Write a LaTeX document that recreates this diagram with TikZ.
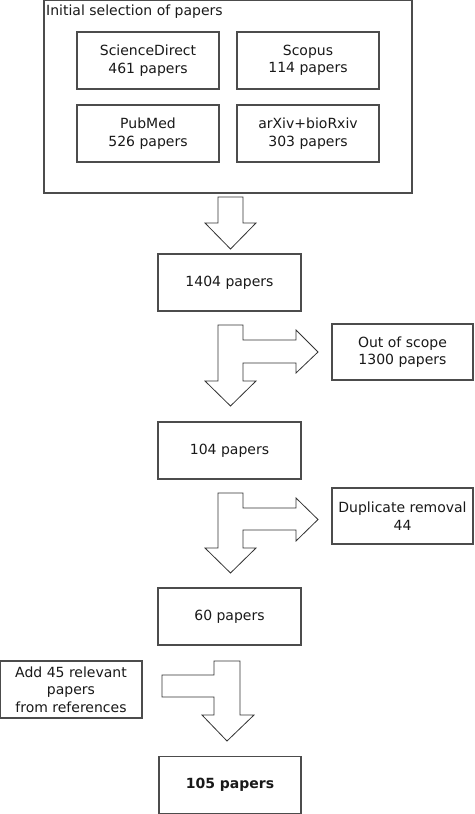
\documentclass[tikz,border=0pt]{standalone}
\usepackage{fontspec}
\setmainfont{DejaVu Sans}
\begin{document}
\begin{tikzpicture}[x=1pt,y=-1pt,
  txt/.style={font=\fontsize{14}{17.5}\selectfont, text=black!90},
  box/.style={txt, draw=black!70, line width=1.1pt, fill=white, align=center, inner sep=0pt},
  outerbox/.style={draw=black!70, line width=1.1pt, inner sep=0pt},
  barrow/.style={draw=black!80, line width=0.8pt, fill=white, line join=miter}]
\useasboundingbox (0,0) rectangle (474,814);
% outer frame
\node[outerbox, minimum width=368pt, minimum height=193pt] (init) at (228,96.5) {};
\node[txt, anchor=west, inner sep=0pt] (initlbl) at (46,12) {Initial selection of papers};
% sources
\node[box, minimum width=142pt, minimum height=57pt] (sd) at (148,60.5) {ScienceDirect\\461 papers};
\node[box, minimum width=142pt, minimum height=57pt] (sc) at (308,60.5) {Scopus\\114 papers};
\node[box, minimum width=142pt, minimum height=57pt] (pm) at (148,133.5) {PubMed\\526 papers};
\node[box, minimum width=142pt, minimum height=57pt] (ax) at (308,133.5) {arXiv+bioRxiv\\303 papers};
% main flow
\node[box, minimum width=143pt, minimum height=57pt] (n1404) at (229.5,282.5) {1404 papers};
\node[box, minimum width=143pt, minimum height=57pt] (n104) at (229.5,450.5) {104 papers};
\node[box, minimum width=143pt, minimum height=57pt] (n60) at (229.5,616.5) {60 papers};
\node[box, minimum width=142pt, minimum height=57pt] (n105) at (230,785) {\textbf{105 papers}};
% side boxes
\node[box, minimum width=141pt, minimum height=56pt] (oos) at (402.5,352) {Out of scope\\1300 papers};
\node[box, minimum width=141pt, minimum height=56pt] (dup) at (402.5,516) {Duplicate removal\\44};
\node[box, minimum width=142pt, minimum height=57pt] (add) at (71,689.5) {Add 45 relevant\\papers\\from references};
% block arrows
\draw[barrow] (218,197) -- (243,197) -- (243,223) -- (256,223) -- (230.5,249) -- (205,223) -- (218,223) -- cycle;
\draw[barrow] (218,325) -- (243,325) -- (243,340) -- (296,340) -- (296,330) -- (318,352) -- (296,373) -- (296,363) -- (243,363) -- (243,381) -- (256,381) -- (230.5,406) -- (205,381) -- (218,381) -- cycle;
\draw[barrow] (218,493) -- (243,493) -- (243,508) -- (296,508) -- (296,498) -- (318,519.5) -- (296,541) -- (296,530) -- (243,530) -- (243,548) -- (256,548) -- (230.5,573) -- (205,548) -- (218,548) -- cycle;
\draw[barrow] (214,661) -- (240,661) -- (240,715) -- (254,715) -- (227,741) -- (202,715) -- (214,715) -- (214,697) -- (162,697) -- (162,675) -- (214,675) -- cycle;
\end{tikzpicture}
\end{document}
